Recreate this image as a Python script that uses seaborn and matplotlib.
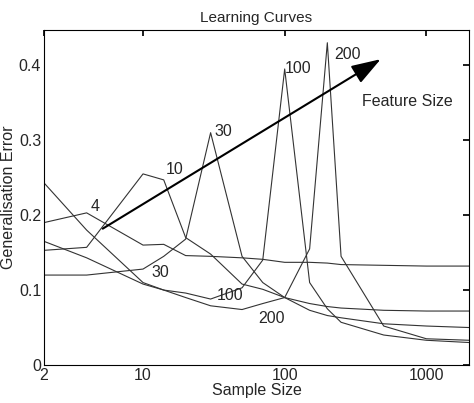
import matplotlib
matplotlib.use("Agg")
import matplotlib.pyplot as plt
import seaborn as sns
import pandas as pd

sns.set_theme(style="white")
plt.rcParams['font.family'] = ['Liberation Sans', 'DejaVu Sans']

sample_size = [2, 4, 10, 14, 20, 30, 50, 70, 100, 150, 200, 250, 500, 1000, 2000]
err_4 = [0.19, 0.203, 0.16, 0.161, 0.146, 0.145, 0.143, 0.141, 0.137, 0.137, 0.136, 0.134, 0.133, 0.132, 0.132]
err_10 = [0.153, 0.157, 0.255, 0.247, 0.17, 0.148, 0.108, 0.101, 0.09, 0.082, 0.078, 0.076, 0.073, 0.072, 0.072]
err_30 = [0.12, 0.12, 0.128, 0.145, 0.168, 0.31, 0.145, 0.11, 0.09, 0.073, 0.066, 0.063, 0.055, 0.052, 0.05]
err_100 = [0.243, 0.18, 0.11, 0.1, 0.096, 0.088, 0.103, 0.14, 0.395, 0.11, 0.075, 0.057, 0.04, 0.033, 0.03]
err_200 = [0.165, 0.143, 0.108, 0.1, 0.09, 0.079, 0.074, 0.082, 0.09, 0.155, 0.43, 0.145, 0.052, 0.035, 0.033]

frames = []
for name, vals in [("4", err_4), ("10", err_10), ("30", err_30), ("100", err_100), ("200", err_200)]:
    frames.append(pd.DataFrame({"x": sample_size, "y": vals, "f": name}))
df = pd.concat(frames)

fig = plt.figure(figsize=(4.74, 4.03), dpi=100)
ax = fig.add_axes([44/474, 1-365/403, (469-44)/474, (365-30)/403])
sns.lineplot(data=df, x="x", y="y", units="f", estimator=None, color="#333333",
             lw=0.8, ax=ax, legend=False)
ax.set_xscale("log")
ax.set_xlim(2, 2000)
ax.set_ylim(0, 0.447)
ax.set_xticks([2, 10, 100, 1000])
ax.set_xticklabels(["2", "10", "100", "1000"])
ax.set_yticks([0, 0.1, 0.2, 0.3, 0.4])
ax.set_yticklabels(["0", "0.1", "0.2", "0.3", "0.4"])
ax.tick_params(direction="in", top=True, right=True, length=4, labelsize=11.5, pad=2, color="black")
for s in ax.spines.values():
    s.set_color("black"); s.set_linewidth(0.8)
ax.set_xlabel("Sample Size", fontsize=11.5, labelpad=0)
ax.set_ylabel("Generalisation Error", fontsize=11.5, labelpad=2)
ax.set_title("Learning Curves", fontsize=11, pad=6)

ax.annotate("", xy=(495, 0.41), xytext=(5, 0.18),
            arrowprops=dict(arrowstyle="-|>,head_length=1.5,head_width=0.5", color="black", lw=1.5))
fs = 11.5
ax.text(4.3, 0.205, "4", fontsize=fs)
ax.text(14.5, 0.255, "10", fontsize=fs)
ax.text(32, 0.305, "30", fontsize=fs)
ax.text(100, 0.39, "100", fontsize=fs)
ax.text(225, 0.408, "200", fontsize=fs)
ax.text(11.5, 0.118, "30", fontsize=fs)
ax.text(33, 0.087, "100", fontsize=fs)
ax.text(65, 0.056, "200", fontsize=fs)
ax.text(350, 0.345, "Feature Size", fontsize=fs)

fig.savefig("out.png", dpi=100)
